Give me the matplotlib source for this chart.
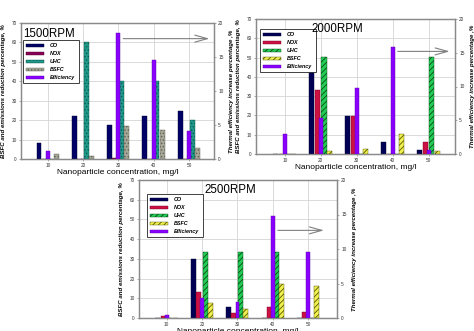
import matplotlib
matplotlib.use('Agg')
import matplotlib.pyplot as plt

plt.rcParams['font.family'] = ['Liberation Sans', 'DejaVu Sans']
plt.rcParams['hatch.linewidth'] = 0.6

conc = [10, 20, 30, 40, 50]
names = ['CO', 'NOX', 'UHC', 'BSFC', 'Efficiency']

# 1500 rpm
co_1500 = [8.0, 22.3, 17.7, 22.3, 24.5]
nox_1500 = [0.0, 0.0, 0.7, 0.0, 0.0]
uhc_1500 = [0.0, 60.0, 40.3, 40.0, 20.2]
bsfc_1500 = [2.7, 1.7, 17.0, 15.0, 5.7]
eff_1500 = [1.2, 0.0, 18.6, 14.6, 4.1]

# 2000 rpm
co_2000 = [0.0, 47.4, 19.8, 6.0, 1.9]
nox_2000 = [0.0, 33.3, 19.8, 0.0, 6.4]
uhc_2000 = [0.0, 50.2, 0.0, 0.0, 50.2]
bsfc_2000 = [0.0, 1.7, 2.4, 10.5, 1.7]
eff_2000 = [3.0, 5.3, 9.75, 15.8, 0.6]

# 2500 rpm
co_2500 = [0.0, 29.8, 5.8, 0.0, 0.0]
nox_2500 = [1.0, 13.2, 2.5, 5.8, 3.0]
uhc_2500 = [0.0, 33.4, 33.4, 33.4, 0.0]
bsfc_2500 = [0.0, 7.6, 4.4, 17.5, 16.4]
eff_2500 = [0.45, 2.9, 2.3, 14.8, 9.5]

W, H = 474, 331


def box(l, t, r, b):
    return [l / W, 1 - b / H, (r - l) / W, (b - t) / H]


def fpt(x, y):
    return (x / W, 1 - y / H)


style_a = [
    dict(color='#000066', hatch=None, ec='#000033'),
    dict(color='#880055', hatch=None, ec='#550033'),
    dict(color='#1f9a8a', hatch='.....', ec='#0d5a50'),
    dict(color='#a8a898', hatch='.....', ec='#606058'),
    dict(color='#8a00ff', hatch=None, ec='#5a00aa'),
]
style_b = [
    dict(color='#000055', hatch=None, ec='#000033'),
    dict(color='#cc1144', hatch=None, ec='#770022'),
    dict(color='#22cc55', hatch='//////', ec='#0a4a1a'),
    dict(color='#f0f050', hatch='//////', ec='#555500'),
    dict(color='#8a00ff', hatch=None, ec='#5a00aa'),
]

offsets = [-2.5, -1.0, 0.9, 2.4]
bw = 1.4


def panel(fig, rect, title, title_xy, leg_xy, data, eff, styles, xlim, arrow):
    ax = fig.add_axes(rect)
    ax2 = ax.twinx()
    handles = []
    for vals, off, st in zip(data, offsets, styles[:4]):
        h = ax.bar([c + off for c in conc], vals, bw, color=st['color'],
                   hatch=st['hatch'], edgecolor=st['ec'], linewidth=0.3, zorder=3)
        handles.append(h)
    st = styles[4]
    h = ax2.bar(conc, eff, 1.1, color=st['color'], edgecolor=st['ec'],
                linewidth=0.3, zorder=3)
    handles.append(h)

    ax.set_xlim(*xlim)
    ax.set_ylim(0, 70)
    ax2.set_ylim(0, 20)
    ax.set_xticks(conc)
    ax.set_yticks(range(0, 71, 10))
    ax2.set_yticks(range(0, 21, 5))
    ax.grid(True, color='#d4d4d4', linewidth=0.6, zorder=0)
    ax.set_axisbelow(True)
    for a in (ax, ax2):
        for sp in a.spines.values():
            sp.set_color('#8a8a8a')
            sp.set_linewidth(0.9)
        a.tick_params(labelsize=3.4, length=1.5, width=0.5, color='#8a8a8a',
                      pad=1.5, labelcolor='#333333')
    ax.set_ylabel('BSFC and emissions reduction percentage, %', fontsize=4.4,
                  fontweight='bold', style='italic', labelpad=4)
    ax2.set_ylabel('Thermal efficiency increase percentage ,%', fontsize=4.4,
                   fontweight='bold', style='italic', labelpad=4)
    ax.set_xlabel('Nanoparticle concentration, mg/l', fontsize=6, labelpad=0.5)

    fig.text(*fpt(*title_xy), title, fontsize=8.3, va='baseline', ha='left')

    leg = ax2.legend(handles, names, loc='upper left', bbox_to_anchor=fpt(*leg_xy),
                     bbox_transform=fig.transFigure, borderaxespad=0,
                     prop=dict(size=3.9, weight='bold', style='italic'),
                     fancybox=False, edgecolor='#222222', framealpha=1,
                     handlelength=3.2, handleheight=0.6, labelspacing=0.55,
                     handletextpad=1.2, borderpad=0.6)
    leg.get_frame().set_linewidth(0.6)

    x0, x1, y = arrow
    ax2.annotate('', xy=(x1, y), xytext=(x0, y),
                 arrowprops=dict(arrowstyle='->,head_length=0.9,head_width=0.25',
                                 color='#808080', lw=0.8), zorder=5)
    return ax


fig = plt.figure(figsize=(W / 100, H / 100), dpi=100)

fig.text(0.5, 1 + 2.5 / H, 'Fig. 6 Changes in emissions, BSFC and thermal efficiency by '
         'engine speed (rpm) at every dosage of nanoparticle',
         fontsize=8, ha='center', va='baseline', color='#222222')

panel(fig, box(21, 23, 214, 159), '1500RPM', (23, 37), (23, 40),
      [co_1500, nox_1500, uhc_1500, bsfc_1500], eff_1500, style_a,
      (2.4, 57.1), (30.6, 56.6, 17.7))
panel(fig, box(256, 19, 455, 154), '2000RPM', (311, 32), (260, 29),
      [co_2000, nox_2000, uhc_2000, bsfc_2000], eff_2000, style_b,
      (2.0, 57.3), (40.6, 56.6, 15.2))
panel(fig, box(139, 180, 337, 318), '2500RPM', (204, 193), (147, 194),
      [co_2500, nox_2500, uhc_2500, bsfc_2500], eff_2500, style_b,
      (2.2, 58.1), (40.6, 55.2, 12.7))

fig.savefig('out.png', dpi=100)
